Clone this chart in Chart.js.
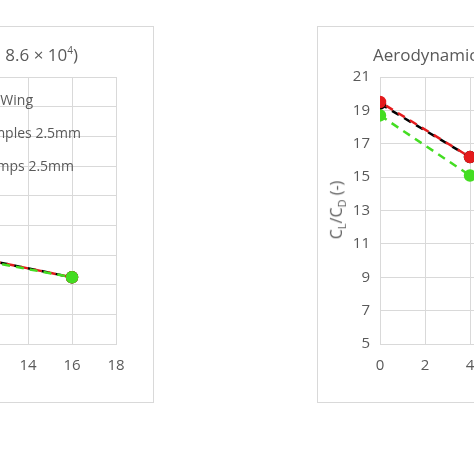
<!DOCTYPE html>
<html><head><meta charset="utf-8">
<script src="https://cdn.jsdelivr.net/npm/chart.js@4/dist/chart.umd.min.js"></script>
<style>
body{margin:0;width:474px;height:474px;overflow:hidden;background:#fff;font-family:"Open Sans",sans-serif;position:relative}
.box{position:absolute;top:26px;height:377px;width:500px;border:1px solid #d9d9d9;box-sizing:border-box}
.t{position:absolute;color:#595959;white-space:nowrap}
</style></head><body>
<div class="box" style="left:-346px"><canvas id="c1" width="500" height="377"></canvas></div>
<div class="box" style="left:317px"><canvas id="c2" width="500" height="377"></canvas></div>
<div class="t" style="right:396px;top:43px;font-size:17px">Aerodynamic Efficiency (Re = 8.6 × 10<sup style="font-size:10px">4</sup>)</div>
<div class="t" style="right:441px;top:90px;font-size:14px">Smooth Wing</div>
<div class="t" style="right:393px;top:123px;font-size:14px">Dimples 2.5mm</div>
<div class="t" style="right:400px;top:156px;font-size:14px">Bumps 2.5mm</div>
<div class="t" style="left:373px;top:43px;font-size:17px">Aerodynamic Efficiency (Re = 1.2 × 10<sup style="font-size:10px">5</sup>)</div>
<div class="t" style="left:337px;top:210px;font-size:16px;transform:translate(-50%,-50%) rotate(-90deg)">C<sub style="font-size:11px">L</sub>/C<sub style="font-size:11px">D</sub> (-)</div>
<script>
var angles = [0, 4, 8, 12, 16];
var leftSmooth = [14.0, 11.2, 8.6, 5.7, 4.5];
var leftDimples = [14.1, 11.3, 8.7, 5.7, 4.5];
var leftBumps = [13.6, 11.0, 8.5, 5.6, 4.5];
var rightSmooth = [19.4, 16.2, 13.4, 11.0, 9.2];
var rightDimples = [19.5, 16.2, 13.5, 11.1, 9.3];
var rightBumps = [18.7, 15.1, 12.6, 10.5, 8.8];
var xTicks = [0, 18, 2];

function ds(vals, color, dash, off) {
    return {
        data: angles.map(function(a, i) { return {x: a, y: vals[i]}; }),
        borderColor: color, backgroundColor: color, borderWidth: 2.5,
        borderDash: dash, borderDashOffset: off, pointRadius: 5, pointHoverRadius: 5
    };
}

function makeChart(id, sets, ymin, ymax, ystep, yw, pr) {
    new Chart(document.getElementById(id), {
        type: 'line',
        data: {datasets: sets},
        options: {
            responsive: false, animation: false,
            layout: {padding: {top: 50, right: pr, left: 0, bottom: 0}},
            plugins: {legend: {display: false}, tooltip: {enabled: false}},
            scales: {
                x: {type: 'linear', min: xTicks[0], max: xTicks[1],
                    ticks: {stepSize: xTicks[2], color: '#595959', font: {size: 15, family: 'Open Sans'}, padding: 13},
                    grid: {color: '#d9d9d9', drawTicks: false}, border: {color: '#d9d9d9'},
                    afterFit: function(s) { s.height = 60; }},
                y: {min: ymin, max: ymax,
                    ticks: {stepSize: ystep, color: '#595959', font: {size: 15, family: 'Open Sans'}, padding: 10},
                    grid: {color: '#d9d9d9', drawTicks: false}, border: {color: '#d9d9d9'},
                    afterFit: function(s) { s.width = yw; }}
            }
        }
    });
}

// first dataset is drawn on top
makeChart('c1', [ds(leftBumps, '#44dd22', [8, 6], 0), ds(leftDimples, '#e41a1c', [8, 6], 7), ds(leftSmooth, '#000000', [8, 6], 0)], 0, 18, 2, 65, 39);
makeChart('c2', [ds(rightBumps, '#44dd22', [8, 6], 0), ds(rightDimples, '#e41a1c', [8, 6], 7), ds(rightSmooth, '#000000', [8, 6], 0)], 5, 21, 2, 62, 33);
</script>
</body></html>
